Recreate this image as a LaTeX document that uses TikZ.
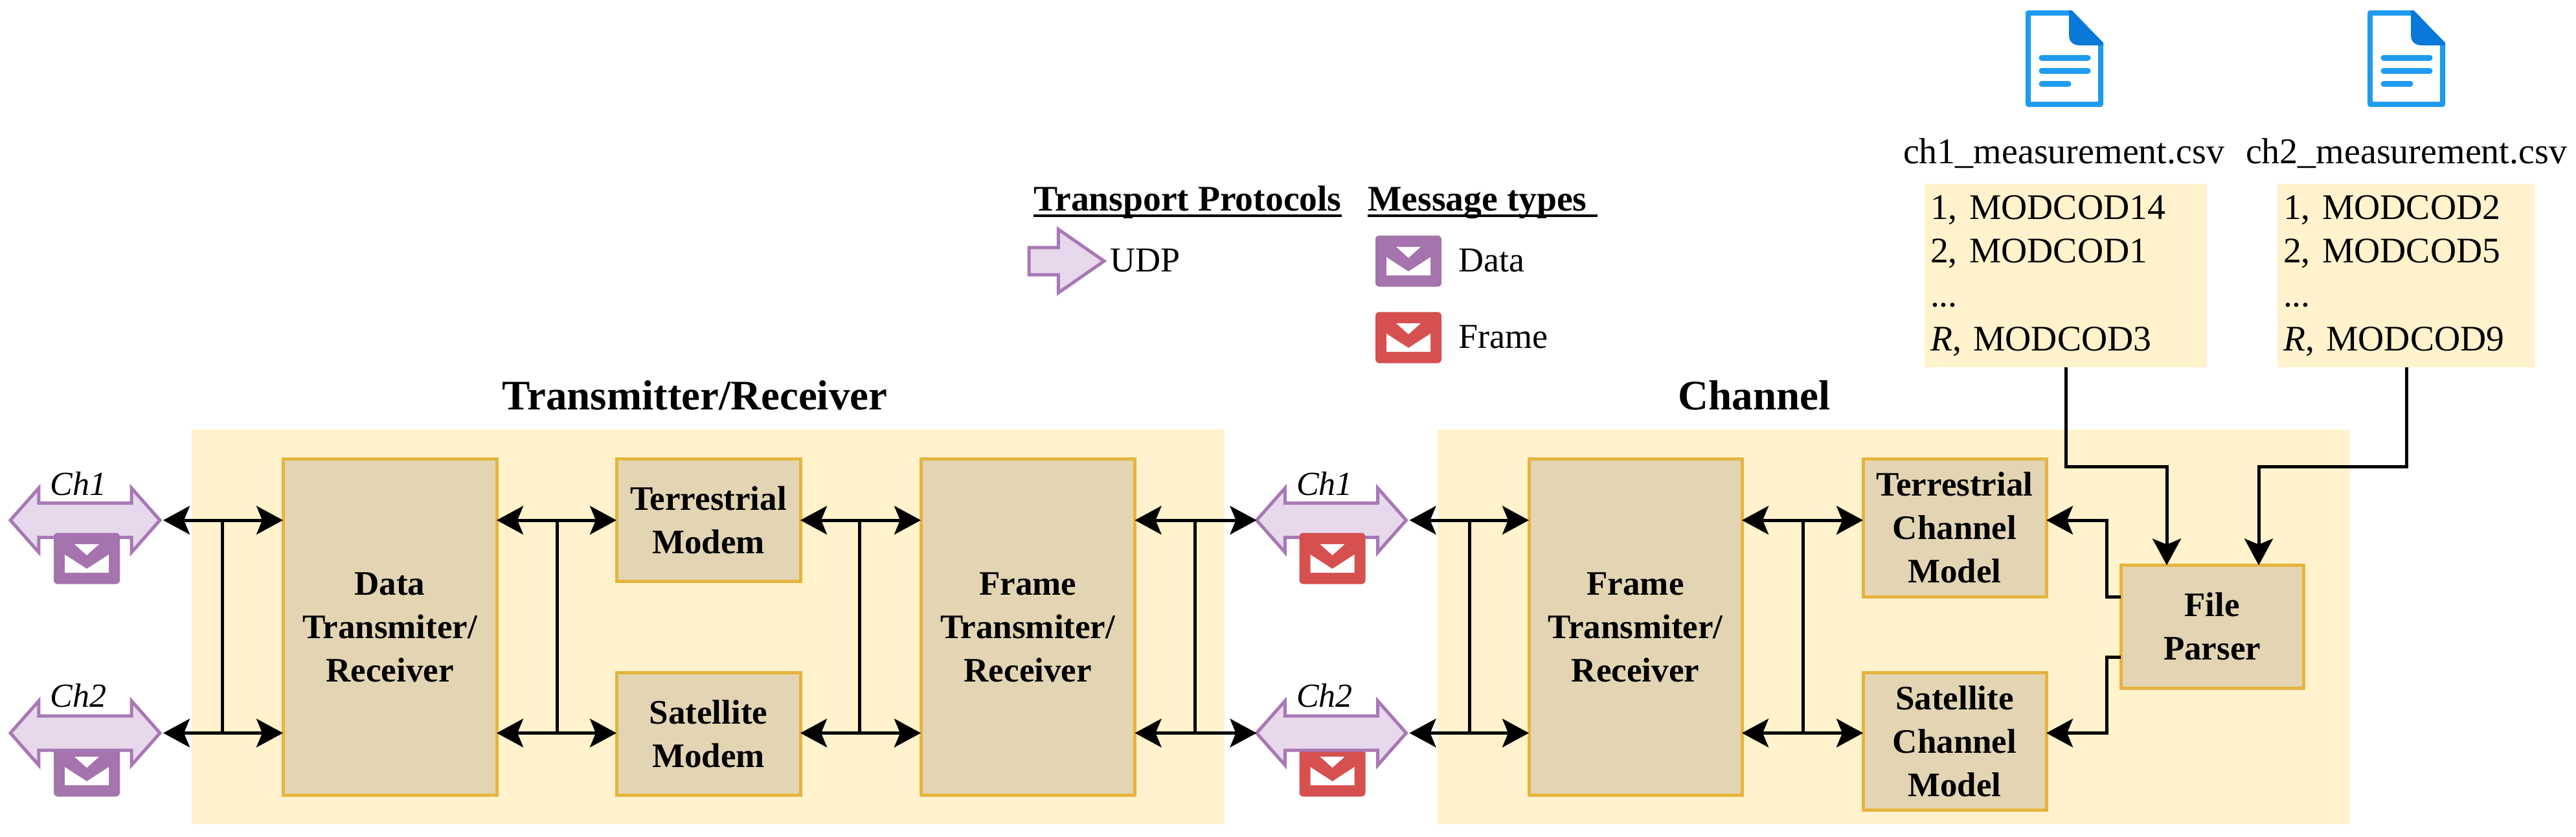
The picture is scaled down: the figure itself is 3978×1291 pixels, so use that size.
\documentclass[tikz,border=0pt]{standalone}
\usepackage{fontspec}
\setmainfont{Liberation Serif}
\usetikzlibrary{arrows.meta,shapes.arrows}
\definecolor{panel}{HTML}{FFF2CC}
\definecolor{blockfill}{HTML}{E3D5B3}
\definecolor{blockline}{HTML}{E6B43E}
\definecolor{arrowline}{HTML}{A878B4}
\definecolor{arrowfill}{HTML}{E7D8EC}
\definecolor{msgpurple}{HTML}{A573AD}
\definecolor{msgred}{HTML}{D5504E}
\definecolor{docblue}{HTML}{1E9BEE}
\definecolor{docdark}{HTML}{0A78D8}
\tikzset{
  x=0.5pt,y=-0.5pt,
  headtip/.tip={Stealth[length=20.5pt,width=22pt,inset=4.5pt]},
  panelbox/.style={fill=panel,draw=none,inner sep=0pt,outer sep=0pt},
  blk/.style={fill=blockfill,draw=blockline,line width=2.5pt,inner sep=0pt,outer sep=0pt,align=center,
    font=\fontsize{26.5}{33.5}\selectfont\bfseries},
  wire/.style={draw=black,line width=2.5pt},
  dbl/.style={double arrow,double arrow tip angle=97,double arrow head extend=11.5pt,
    minimum height=115.5pt,inner xsep=0pt,inner ysep=12pt,outer sep=0pt,
    draw=arrowline,fill=arrowfill,line width=2.5pt},
  chlabel/.style={anchor=base,inner sep=0pt,font=\fontsize{26}{30}\selectfont\itshape},
  title/.style={anchor=base,inner sep=0pt,font=\fontsize{32.5}{38}\selectfont\bfseries},
  legendhead/.style={anchor=base west,inner sep=0pt,font=\fontsize{27.8}{33}\selectfont\bfseries},
  legendtext/.style={anchor=base west,inner sep=0pt,font=\fontsize{27}{33}\selectfont},
  csvbox/.style={fill=panel,draw=none,inner xsep=4.5pt,inner ysep=0pt,outer sep=0pt,align=left,
    font=\fontsize{27.8}{33.8}\selectfont},
  msgbody/.style={minimum width=51pt,minimum height=39.5pt,inner sep=0pt,outer sep=0pt,rounded corners=3pt},
}
\newcommand{\msgicon}[4]{% name, x, y, colour
  \node[msgbody,fill=#4] (#1) at (#2,#3) {};
  \begin{scope}[shift={(#2,#3)}]
    \fill[white] (-19,-22) -- (19,-22) -- (0,-5) -- cycle;
    \fill[white] (-34,-6) -- (0,16) -- (34,-6) -- (34,22) -- (-34,22) -- cycle;
  \end{scope}}
\newcommand{\docicon}[1]{%
  \begin{scope}[shift={(#1,0)}]
    \draw[docblue,fill=white,line width=4pt,line join=round] (3132,20) -- (3198,20) -- (3244,68) -- (3244,161) -- (3132,161) -- cycle;
    \fill[docdark] (3195,16) -- (3199,16) -- (3248,66) -- (3248,70) -- (3212,70) .. controls (3201,70) and (3195,64) .. (3195,54) -- cycle;
    \draw[docblue,line width=4.5pt,line cap=round] (3153,89) -- (3224,89);
    \draw[docblue,line width=4.5pt,line cap=round] (3153,109) -- (3224,109);
    \draw[docblue,line width=4.5pt,line cap=round] (3153,129) -- (3194,129);
  \end{scope}}
\begin{document}
\begin{tikzpicture}
\useasboundingbox (0,0) rectangle (3978,1291);
\fill[white] (0,0) rectangle (3978,1291);

% panels
\node[panelbox,minimum width=797.5pt,minimum height=304.5pt] (txpanel) at (1093.75,967.5) {};
\node[panelbox,minimum width=704.5pt,minimum height=304.5pt] (chpanel) at (2924.5,967.5) {};
\node[title] (txtitle) at (1073,632) {Transmitter/Receiver};
\node[title] (chtitle) at (2709,632) {Channel};

% blocks
\node[blk,minimum width=165pt,minimum height=259.25pt] (data) at (602,968) {Data\\Transmiter/\\Receiver};
\node[blk,minimum width=142pt,minimum height=94.25pt] (terrmodem) at (1094,803) {Terrestrial\\Modem};
\node[blk,minimum width=142pt,minimum height=94.5pt] (satmodem) at (1094,1132.5) {Satellite\\Modem};
\node[blk,minimum width=165.25pt,minimum height=259.25pt] (frameA) at (1587.25,968) {Frame\\Transmiter/\\Receiver};
\node[blk,minimum width=164.5pt,minimum height=259.25pt] (frameB) at (2525.5,968) {Frame\\Transmiter/\\Receiver};
\node[blk,minimum width=141.5pt,minimum height=106.25pt] (terrch) at (3018.5,814.75) {Terrestrial\\Channel\\Model};
\node[blk,minimum width=141.5pt,minimum height=106pt] (satch) at (3018.5,1144) {Satellite\\Channel\\Model};
\node[blk,minimum width=141pt,minimum height=94.75pt] (parser) at (3416,967.25) {File\\Parser};

% channel arrows and message icons (upper row: icon above arrow; lower row: arrow above icon)
\node[dbl] (chA) at (131.5,803) {};
\msgicon{msgA}{134}{862}{msgpurple}
\msgicon{msgB}{134}{1190}{msgpurple}
\node[dbl] (chB) at (131.5,1131.5) {};
\node[dbl] (chC) at (2056,803) {};
\msgicon{msgC}{2057.5}{862}{msgred}
\msgicon{msgD}{2057.5}{1190}{msgred}
\node[dbl] (chD) at (2056,1131.5) {};
\node[chlabel] (lA) at (121,764.5) {Ch1};
\node[chlabel] (lB) at (121,1091.5) {Ch2};
\node[chlabel] (lC) at (2045.5,764.5) {Ch1};
\node[chlabel] (lD) at (2045.5,1091.5) {Ch2};

% junction coordinates
\foreach \n/\xx in {a/343,b/860,c/1327,d/1845,e/2269,f/2784}{
  \coordinate (\n1) at (\xx,803);
  \coordinate (\n2) at (\xx,1131.5);
}

% horizontal bidirectional connectors
\draw[wire,{headtip}-{headtip},shorten <=2.5pt] (chA.east) -- (data.west |- chA.east);
\draw[wire,{headtip}-{headtip},shorten <=2.5pt] (chB.east) -- (data.west |- chB.east);
\draw[wire,{headtip}-{headtip}] (data.east |- chA.east) -- (terrmodem.west |- chA.east);
\draw[wire,{headtip}-{headtip}] (data.east |- chB.east) -- (satmodem.west |- chB.east);
\draw[wire,{headtip}-{headtip}] (terrmodem.east |- chA.east) -- (frameA.west |- chA.east);
\draw[wire,{headtip}-{headtip}] (satmodem.east |- chB.east) -- (frameA.west |- chB.east);
\draw[wire,{headtip}-{headtip}] (frameA.east |- chC.west) -- (chC.west);
\draw[wire,{headtip}-{headtip}] (frameA.east |- chD.west) -- (chD.west);
\draw[wire,{headtip}-{headtip},shorten <=2.5pt] (chC.east) -- (frameB.west |- chC.east);
\draw[wire,{headtip}-{headtip},shorten <=2.5pt] (chD.east) -- (frameB.west |- chD.east);
\draw[wire,{headtip}-{headtip}] (frameB.east |- chC.east) -- (terrch.west |- chC.east);
\draw[wire,{headtip}-{headtip}] (frameB.east |- chD.east) -- (satch.west |- chD.east);

% vertical bus lines
\foreach \n in {a,b,c,d,e,f}{\draw[wire] (\n1) -- (\n2);}

% legend
\node[legendhead] (tp) at (1596,325) {Transport Protocols};
\node[legendhead] (mt) at (2112,325) {Message types};
\draw[black,line width=2pt] ([yshift=-4pt]tp.base west) -- ([yshift=-4pt]tp.base east);
\draw[black,line width=2pt] ([yshift=-4pt]mt.base west) -- ([yshift=-4pt,xshift=8pt]mt.base east);
\node[single arrow,single arrow tip angle=69.5,single arrow head extend=14pt,minimum height=58pt,
  inner xsep=0pt,inner ysep=9.25pt,outer sep=0pt,draw=arrowline,fill=arrowfill,line width=2.5pt,anchor=west] (udparrow) at (1589,403) {};
\node[legendtext] (udp) at (1714,419) {UDP};
\msgicon{legdata}{2175}{403}{msgpurple}
\msgicon{legframe}{2175}{521}{msgred}
\node[legendtext] (tdata) at (2252.5,419) {Data};
\node[legendtext] (tframe) at (2252.5,537) {Frame};

% files
\docicon{0}
\docicon{528}
\node[anchor=base,inner sep=0pt,font=\fontsize{28}{33}\selectfont] (nameA) at (3187,252.5) {ch1\_measurement.csv};
\node[anchor=base,inner sep=0pt,font=\fontsize{28}{33}\selectfont] (nameB) at (3716,252.5) {ch2\_measurement.csv};
\node[csvbox,minimum height=141.5pt,text width=208.75pt] (csvA) at (3189.75,425.5) {1, MODCOD14\\2, MODCOD1\\...\\\textit{R}, MODCOD3};
\node[csvbox,minimum height=141.5pt,text width=190pt] (csvB) at (3716,425.5) {1, MODCOD2\\2, MODCOD5\\...\\\textit{R}, MODCOD9};

% file parser connectors
\coordinate (bendA) at (3190,720);
\coordinate (bendB) at (3346,720);
\coordinate (bendC) at (3716,720);
\coordinate (bendD) at (3488,720);
\draw[wire,-{headtip}] (csvA.south -| bendA) -- (bendA) -- (bendB) -- (parser.north -| bendB);
\draw[wire,-{headtip}] (csvB.south -| bendC) -- (bendC) -- (bendD) -- (parser.north -| bendD);
\coordinate (outT) at (3275,921);
\coordinate (outS) at (3275,1014.5);
\coordinate (riseT) at (3253,921);
\coordinate (riseS) at (3253,1014.5);
\draw[wire,-{headtip}] (outT) -- (riseT) -- (riseT |- chC.east) -- (terrch.east |- chC.east);
\draw[wire,-{headtip}] (outS) -- (riseS) -- (riseS |- chD.east) -- (satch.east |- chD.east);
\end{tikzpicture}
\end{document}
